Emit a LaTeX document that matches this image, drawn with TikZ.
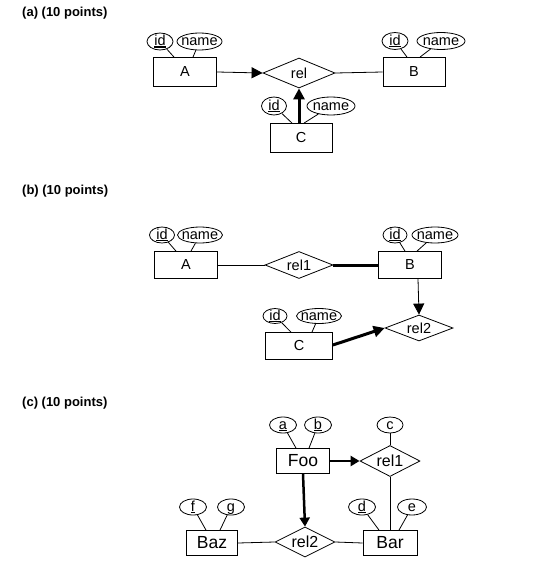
\documentclass[tikz,border=0pt]{standalone}
\usepackage{fontspec}
\setmainfont{Liberation Sans}
\usetikzlibrary{shapes.geometric,arrows.meta}
\newcommand\attx[1]{\raisebox{-0.3em}[0pt][0pt]{\makebox[0pt]{#1}}}
\newsavebox\ulbox
\newcommand\ulx[1]{\sbox\ulbox{#1}\rlap{\rule[-1.9pt]{\wd\ulbox}{1.3pt}}\usebox\ulbox}
\begin{document}
\begin{tikzpicture}[x=1pt,y=-1pt,
  ent/.style={draw,line width=0.8pt,rectangle,inner sep=0pt,minimum height=29pt,font=\fontsize{14.5}{16}\selectfont},
  rel/.style={draw,line width=0.8pt,diamond,aspect=2.4,inner sep=0pt,font=\fontsize{14.5}{16}\selectfont},
  att/.style={draw,line width=0.8pt,ellipse,inner sep=0pt,minimum height=17pt,font=\fontsize{14.5}{16}\selectfont},
  conn/.style={line width=0.8pt},
  bold/.style={line width=3pt},
  tip/.style={-{Triangle[length=11pt,width=11pt]}},
  ctip/.style={-{Triangle[length=9pt,width=10pt]}},
  title/.style={font=\fontsize{13}{15}\selectfont\bfseries,anchor=west,inner sep=0pt}]
\path[use as bounding box] (0,0) rectangle (541,588);

% ---------- (a)
\node[title] (ta) at (22,13) {(a) (10 points)};
\node[ent,minimum width=63pt] (aA) at (185,72) {A};
\node[att,minimum width=26pt] (aAid) at (160,41.5) {\attx{\ulx{id}}};
\node[att,minimum width=45pt] (aAname) at (199.5,41.5) {\attx{name}};
\draw[conn] (aAid) -- ([xshift=-11pt]aA.north);
\draw[conn] (aAname) -- ([xshift=8pt]aA.north);
\node[rel,minimum width=72pt,minimum height=30pt] (arel) at (299,73) {rel};
\node[ent,minimum width=62pt] (aB) at (414,72) {B};
\node[att,minimum width=26pt] (aBid) at (395,41) {\attx{\ulx{id}}};
\node[att,minimum width=48pt] (aBname) at (441,41) {\attx{name}};
\draw[conn] (aBid) -- ([xshift=-7pt]aB.north);
\draw[conn] (aBname) -- ([xshift=6pt]aB.north);
\node[ent,minimum width=62pt] (aC) at (301,138) {C};
\node[att,minimum width=25pt,minimum height=18pt] (aCid) at (274,106) {\attx{\ulx{id}}};
\node[att,minimum width=48pt,minimum height=18pt] (aCname) at (331,106) {\attx{name}};
\draw[conn] (aCid) -- ([xshift=-9pt]aC.north);
\draw[conn] (aCname) -- ([xshift=3pt]aC.north);
\draw[conn,tip] (aA.east) -- (arel.west);
\draw[conn] (arel.east) -- (aB.west);
\draw[bold,tip] ([xshift=-2pt]aC.north) -- (arel.south);

% ---------- (b)
\node[title] (tb) at (22,191) {(b) (10 points)};
\node[ent,minimum width=63pt,minimum height=27pt] (bA) at (186,265) {A};
\node[att,minimum width=25pt,minimum height=16pt] (bAid) at (162,235) {\attx{\ulx{id}}};
\node[att,minimum width=45pt,minimum height=16pt] (bAname) at (200,235) {\attx{name}};
\draw[conn] (bAid) -- ([xshift=-10pt]bA.north);
\draw[conn] (bAname) -- ([xshift=5pt]bA.north);
\node[rel,minimum width=68pt,minimum height=27pt] (brel1) at (299,265) {rel1};
\node[ent,minimum width=63pt,minimum height=27pt] (bB) at (410,265) {B};
\node[att,minimum width=24pt,minimum height=16pt] (bBid) at (395,235) {\attx{\ulx{id}}};
\node[att,minimum width=46pt,minimum height=16pt] (bBname) at (435,235) {\attx{name}};
\draw[conn] (bBid) -- ([xshift=-5pt]bB.north);
\draw[conn] (bBname) -- ([xshift=7pt]bB.north);
\node[rel,minimum width=68pt,minimum height=26pt] (brel2) at (419,328) {rel2};
\node[ent,minimum width=67pt,minimum height=27pt] (bC) at (299,346) {C};
\node[att,minimum width=24pt,minimum height=15pt] (bCid) at (275,316) {\attx{\ulx{id}}};
\node[att,minimum width=45pt,minimum height=15pt] (bCname) at (319,316) {\attx{name}};
\draw[conn] (bCid) -- ([xshift=-8pt]bC.north);
\draw[conn] (bCname) -- ([xshift=13pt]bC.north);
\draw[conn] (bA.east) -- (brel1.west);
\draw[bold] (brel1.east) -- (bB.west);
\draw[conn,tip] ([xshift=8pt]bB.south) -- (brel2.north);
\draw[bold,tip] ([yshift=1pt]bC.east) -- (brel2.west);

% ---------- (c)
\node[title] (tc) at (22,403) {(c) (10 points)};
\node[ent,minimum width=53pt,minimum height=25pt,font=\fontsize{17.5}{19}\selectfont] (cFoo) at (303,461) {Foo};
\node[att,minimum width=27pt,minimum height=16pt] (ca) at (283,425) {\attx{\ulx{a}}};
\node[att,minimum width=27pt,minimum height=16pt] (cb) at (318,425) {\attx{\ulx{b}}};
\draw[conn] (ca) -- ([xshift=-7pt]cFoo.north);
\draw[conn] (cb) -- ([xshift=6pt]cFoo.north);
\node[rel,minimum width=60pt,minimum height=31pt,font=\fontsize{16}{18}\selectfont] (crel1) at (390,461) {rel1};
\node[att,minimum width=26pt,minimum height=16pt] (cc) at (390,425) {\attx{c}};
\draw[conn] (cc) -- (crel1.north);
\node[ent,minimum width=51pt,minimum height=25pt,font=\fontsize{17.5}{19}\selectfont] (cBaz) at (212,543) {Baz};
\node[att,minimum width=27pt,minimum height=16pt] (cf) at (193,507) {\attx{\ulx{f}}};
\node[att,minimum width=27pt,minimum height=16pt] (cg) at (231,507) {\attx{g}};
\draw[conn] (cf) -- ([xshift=-6pt]cBaz.north);
\draw[conn] (cg) -- ([xshift=8pt]cBaz.north);
\node[rel,minimum width=60pt,minimum height=30pt,font=\fontsize{16}{18}\selectfont] (crel2) at (305,542) {rel2};
\node[ent,minimum width=54pt,minimum height=25pt,font=\fontsize{17.5}{19}\selectfont] (cBar) at (390,543) {Bar};
\node[att,minimum width=27pt,minimum height=16pt] (cd) at (362,507) {\attx{\ulx{d}}};
\node[att,minimum width=29pt,minimum height=16pt] (ce) at (412,507) {\attx{e}};
\draw[conn] (cd) -- ([xshift=-11pt]cBar.north);
\draw[conn] (ce) -- ([xshift=9pt]cBar.north);
\draw[conn] (crel1.south) -- (cBar.north);
\draw[conn] (cBaz.east) -- (crel2.west);
\draw[conn] (crel2.east) -- (cBar.west);
\draw[line width=2.5pt,ctip] (cFoo.east) -- (crel1.west);
\draw[line width=2.5pt,ctip] (cFoo.south) -- (crel2.north);
\end{tikzpicture}
\end{document}
